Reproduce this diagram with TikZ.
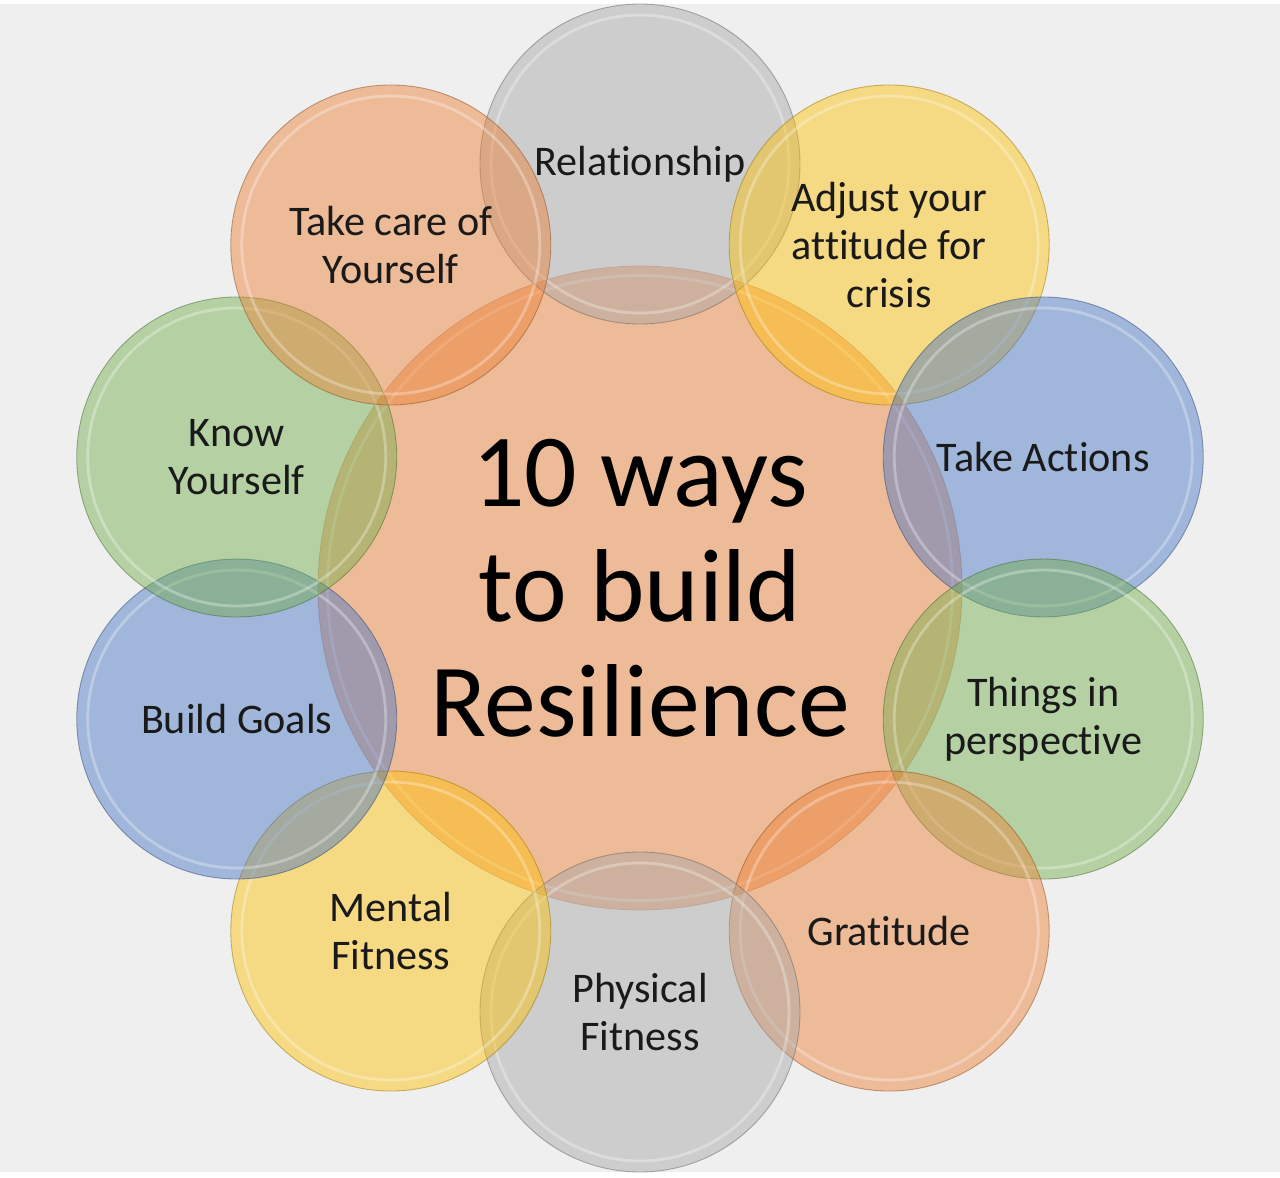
\documentclass[tikz,border=0pt]{standalone}
\usepackage{fontspec}
\setmainfont[Ligatures=NoCommon]{Carlito}
\usepackage{tikz}
\definecolor{FondGris}{HTML}{EFEFEF}
\definecolor{Bleu}{HTML}{4472C4}
\definecolor{Orange}{HTML}{ED7D31}
\definecolor{Gris}{HTML}{A5A5A5}
\definecolor{Jaune}{HTML}{FFC000}
\definecolor{Vert}{HTML}{70AD47}
\definecolor{Texte}{HTML}{1A1A1A}
\tikzstyle{bulle}   =[circle, minimum size=6.4cm, inner sep=0pt, fill opacity=0.45, draw opacity=0.5, line width=0.5pt]
\tikzstyle{coeur}   =[circle, minimum size=12.88cm, inner sep=0pt, fill=Orange, fill opacity=0.45, draw=Orange!60!black, draw opacity=0.3]
\tikzstyle{reflet}  =[white, line width=1.6pt, opacity=0.3]
\tikzstyle{etiquette}=[align=center, text=Texte, font=\fontsize{24}{27.5}\selectfont]
\tikzstyle{titre}   =[align=center, text=black, font=\fontsize{59}{65.5}\selectfont]

\begin{document}
\begin{tikzpicture}
 \fill[white] (-12.8,-11.78) rectangle (12.8,11.76);
 \fill[FondGris] (-12.8,-11.68) rectangle (12.8,11.68);
 \node[coeur] (centre) at (0,0) {};
 \draw[reflet] (centre.center) circle (6.25);
 \node[bulle, fill=Gris, draw=Gris!60!black] (relation) at (90:8.48) {};
 \draw[reflet] (relation.center) circle (2.98);
 \node[bulle, fill=Jaune, draw=Jaune!60!black] (attitude) at (54:8.48) {};
 \draw[reflet] (attitude.center) circle (2.98);
 \node[bulle, fill=Bleu, draw=Bleu!60!black] (actions) at (18:8.48) {};
 \draw[reflet] (actions.center) circle (2.98);
 \node[bulle, fill=Vert, draw=Vert!60!black] (perspective) at (-18:8.48) {};
 \draw[reflet] (perspective.center) circle (2.98);
 \node[bulle, fill=Orange, draw=Orange!60!black] (gratitude) at (-54:8.48) {};
 \draw[reflet] (gratitude.center) circle (2.98);
 \node[bulle, fill=Gris, draw=Gris!60!black] (physique) at (-90:8.48) {};
 \draw[reflet] (physique.center) circle (2.98);
 \node[bulle, fill=Jaune, draw=Jaune!60!black] (mental) at (-126:8.48) {};
 \draw[reflet] (mental.center) circle (2.98);
 \node[bulle, fill=Bleu, draw=Bleu!60!black] (objectifs) at (-162:8.48) {};
 \draw[reflet] (objectifs.center) circle (2.98);
 \node[bulle, fill=Vert, draw=Vert!60!black] (connaitre) at (162:8.48) {};
 \draw[reflet] (connaitre.center) circle (2.98);
 \node[bulle, fill=Orange, draw=Orange!60!black] (soin) at (126:8.48) {};
 \draw[reflet] (soin.center) circle (2.98);
 \node[titre] (t-centre) at (centre) {10 ways\\to build\\Resilience};
 \node[etiquette] (t-relation) at (relation) {Relationship};
 \node[etiquette] (t-attitude) at (attitude) {Adjust your\\attitude for\\crisis};
 \node[etiquette] (t-actions) at (actions) {Take Actions};
 \node[etiquette] (t-perspective) at (perspective) {Things in\\perspective};
 \node[etiquette] (t-gratitude) at (gratitude) {Gratitude};
 \node[etiquette] (t-physique) at (physique) {Physical\\Fitness};
 \node[etiquette] (t-mental) at (mental) {Mental\\Fitness};
 \node[etiquette] (t-objectifs) at (objectifs) {Build Goals};
 \node[etiquette] (t-connaitre) at (connaitre) {Know\\Yourself};
 \node[etiquette] (t-soin) at (soin) {Take care of\\Yourself};
\end{tikzpicture}
\end{document}
